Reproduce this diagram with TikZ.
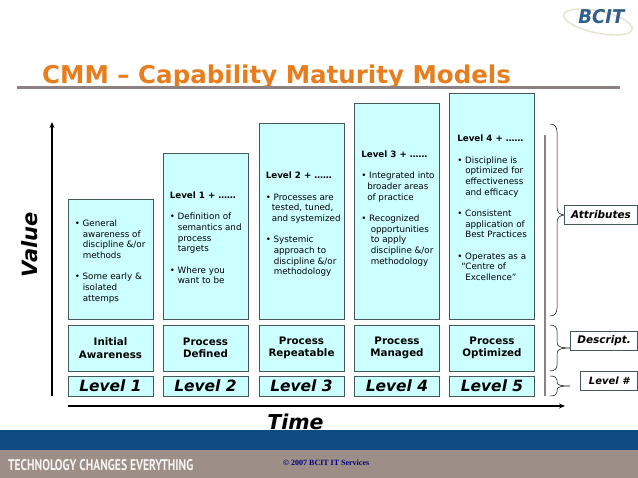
\documentclass[tikz,border=0pt]{standalone}
\usepackage{fontspec}
\setmainfont{DejaVu Sans}
\newfontfamily\footfont{Liberation Serif}
\newfontfamily\bannerfont{PT Sans}
\usetikzlibrary{positioning,arrows.meta}
\definecolor{cellcyan}{HTML}{CCFFFF}
\definecolor{celledge}{HTML}{44585A}
\definecolor{titleorange}{HTML}{E87D1E}
\definecolor{rulegrey}{HTML}{8C8080}
\definecolor{bandblue}{HTML}{0F4A80}
\definecolor{bandgrey}{HTML}{9D8F87}
\definecolor{logoblue}{HTML}{2F5F8A}
\definecolor{logoring}{HTML}{E6E2D0}
\newcommand{\hangA}{\hspace*{8pt}}
\newcommand{\hangB}{\hspace*{6pt}}
\newcommand{\hangC}{\hspace*{9.5pt}}
% top, tip, bottom, tip x, curl
\newcommand{\sidebrace}[5]{%
   \draw[bracket] (550,#1) .. controls ({550+5},#1) and (557,{#1+#5*0.4}) .. (557,{#1+#5})
      -- (557,{#2-#5}) .. controls (557,{#2-#5*0.3}) and (560,#2) .. (#4,#2)
      .. controls (560,#2) and (557,{#2+#5*0.3}) .. (557,{#2+#5})
      -- (557,{#3-#5}) .. controls (557,{#3-#5*0.4}) and ({550+5},#3) .. (550,#3);}
\begin{document}
\begin{tikzpicture} [x=1pt, y=-1pt,
         cell/.style={draw=celledge, line width=0.9pt, fill=cellcyan, inner sep=0pt, minimum width=85pt},
         celltext/.style={inner sep=0pt, align=left, font=\fontsize{8.75}{10.67}\selectfont},
         desc/.style={cell, minimum height=46pt, align=center, font=\fontsize{10.3}{12.6}\selectfont\bfseries},
         lev/.style={cell, minimum height=20pt, font=\fontsize{15.5}{18}\selectfont\bfseries\itshape},
         tag/.style={draw=celledge, line width=0.8pt, fill=white, inner sep=0pt, minimum height=19pt, anchor=north east},
         bracket/.style={draw=black, line width=0.5pt},
         axis/.style={line width=1.4pt, -{Stealth[length=6pt, width=5pt]}}]
   \useasboundingbox (0,0) rectangle (638,478);
   % footer
   \fill[bandblue] (0,430) rectangle (638,450);
   \fill[bandgrey] (0,450) rectangle (638,478);
   \node (banner) [anchor=west, inner sep=0pt, text=white!90!bandgrey, xscale=0.745, font=\fontsize{15.5}{15.5}\selectfont\bannerfont\bfseries] at (8,465) {TECHNOLOGY CHANGES EVERYTHING};
   \node (copy) [anchor=west, inner sep=0pt, text=blue!50!black, font=\fontsize{8}{8}\selectfont\footfont\bfseries] at (283,463) {© 2007 BCIT IT Services};
   % logo
   \draw[logoring, line width=1.4pt, rotate around={-12:(598,22)}] (598,22) ellipse (35pt and 11pt);
   \node (logo) [inner sep=0pt, text=logoblue, xscale=0.95, font=\fontsize{19}{19}\selectfont\bfseries\itshape] at (601.5,17) {BCIT};
   % title
   \node (title) [anchor=base west, inner sep=0pt, text=titleorange, font=\fontsize{24.5}{24.5}\selectfont\bfseries] at (42,84) {CMM – Capability Maturity Models};
   \draw[rulegrey, line width=3pt] (17,88) -- (620,88);
   % level columns
   \foreach \i/\x/\top in {1/110.5/200, 2/205.5/154, 3/301.5/124, 4/397/104, 5/492/94}
     \node (attr\i) [cell, anchor=south, minimum height={(320-\top)*1pt}] at (\x,320) {};
   \foreach \i/\x/\one/\two in {1/110.5/Initial/Awareness, 2/205.5/Process/Defined, 3/301.5/Process/Repeatable, 4/397/Process/Managed, 5/492/Process/Optimized}
   {
     \node (desc\i) [desc] at (\x,348) {\one\\\two};
     \node (lev\i) [lev] at (\x,386) {Level \i};
   }
   \node (txt1) [celltext, right=7pt of attr1.west, yshift=-2pt] {%
     • General\\ \hangA awareness of\\ \hangA discipline \&/or\\ \hangA methods\\[10.67pt]
     • Some early \&\\ \hangA isolated\\ \hangA attemps};
   \node (txt2) [celltext, right=7pt of attr2.west, yshift=-1.5pt] {%
     \textbf{Level 1 + ……}\\[10.67pt]
     • Definition of\\ \hangA semantics and\\ \hangA process\\ \hangA targets\\[10.67pt]
     • Where you\\ \hangA want to be};
   \node (txt3) [celltext, right=7pt of attr3.west, yshift=-3pt] {%
     \textbf{Level 2 + ……}\\[10.67pt]
     • Processes are\\ \hangB tested, tuned,\\ \hangB and systemized\\[10.67pt]
     • Systemic\\ \hangA approach to\\ \hangA discipline \&/or\\ \hangA methodology};
   \node (txt4) [celltext, right=7pt of attr4.west, yshift=3pt] {%
     \textbf{Level 3 + ……}\\[10.67pt]
     • Integrated into\\ \hangB broader areas\\ \hangB of practice\\[10.67pt]
     • Recognized\\ \hangC opportunities\\ \hangC to apply\\ \hangC discipline \&/or\\ \hangC methodology};
   \node (txt5) [celltext, right=8pt of attr5.west, yshift=-1.5pt] {%
     \textbf{Level 4 + ……}\\[10.67pt]
     • Discipline is\\ \hangA optimized for\\ \hangA effectiveness\\ \hangA and efficacy\\[10.67pt]
     • Consistent\\ \hangA application of\\ \hangA Best Practices\\[10.67pt]
     • Operates as a\\ \hspace*{4pt}“Centre of\\ \hangA Excellence”};
   % axes
   \coordinate (yfoot) at (52,396);
   \coordinate (yhead) at (52,122);
   \coordinate (xfoot) at (68,406);
   \coordinate (xhead) at (565,406);
   \draw[axis] (yfoot) -- (yhead);
   \draw[axis] (xfoot) -- (xhead);
   \node (value) [rotate=90, inner sep=0pt, font=\fontsize{21}{21}\selectfont\bfseries\itshape] at (30,245) {Value};
   \node (time) [inner sep=0pt, anchor=base, font=\fontsize{20.5}{20.5}\selectfont\bfseries\itshape] at (295.5,430) {Time};
   % side labels
   \coordinate (sepa) at (545,135);
   \coordinate (sepb) at (545,396);
   \draw[rulegrey, line width=1.2pt] (sepa) -- (sepb);
   \sidebrace{124}{215}{316}{565}{8}
   \sidebrace{325}{348}{371}{570}{6}
   \sidebrace{376}{386}{396}{570}{4}
   \node (attrtag) [tag, minimum width=73pt, font=\fontsize{10.5}{12}\selectfont\bfseries\itshape] at (638,205) {Attributes};
   \node (desctag) [tag, minimum width=67pt, font=\fontsize{10.5}{12}\selectfont\bfseries\itshape] at (638,331) {Descript.};
   \node (levtag) [tag, minimum width=57pt, font=\fontsize{10}{12}\selectfont\bfseries\itshape] at (638,371) {Level \#};
\end{tikzpicture}
\end{document}
